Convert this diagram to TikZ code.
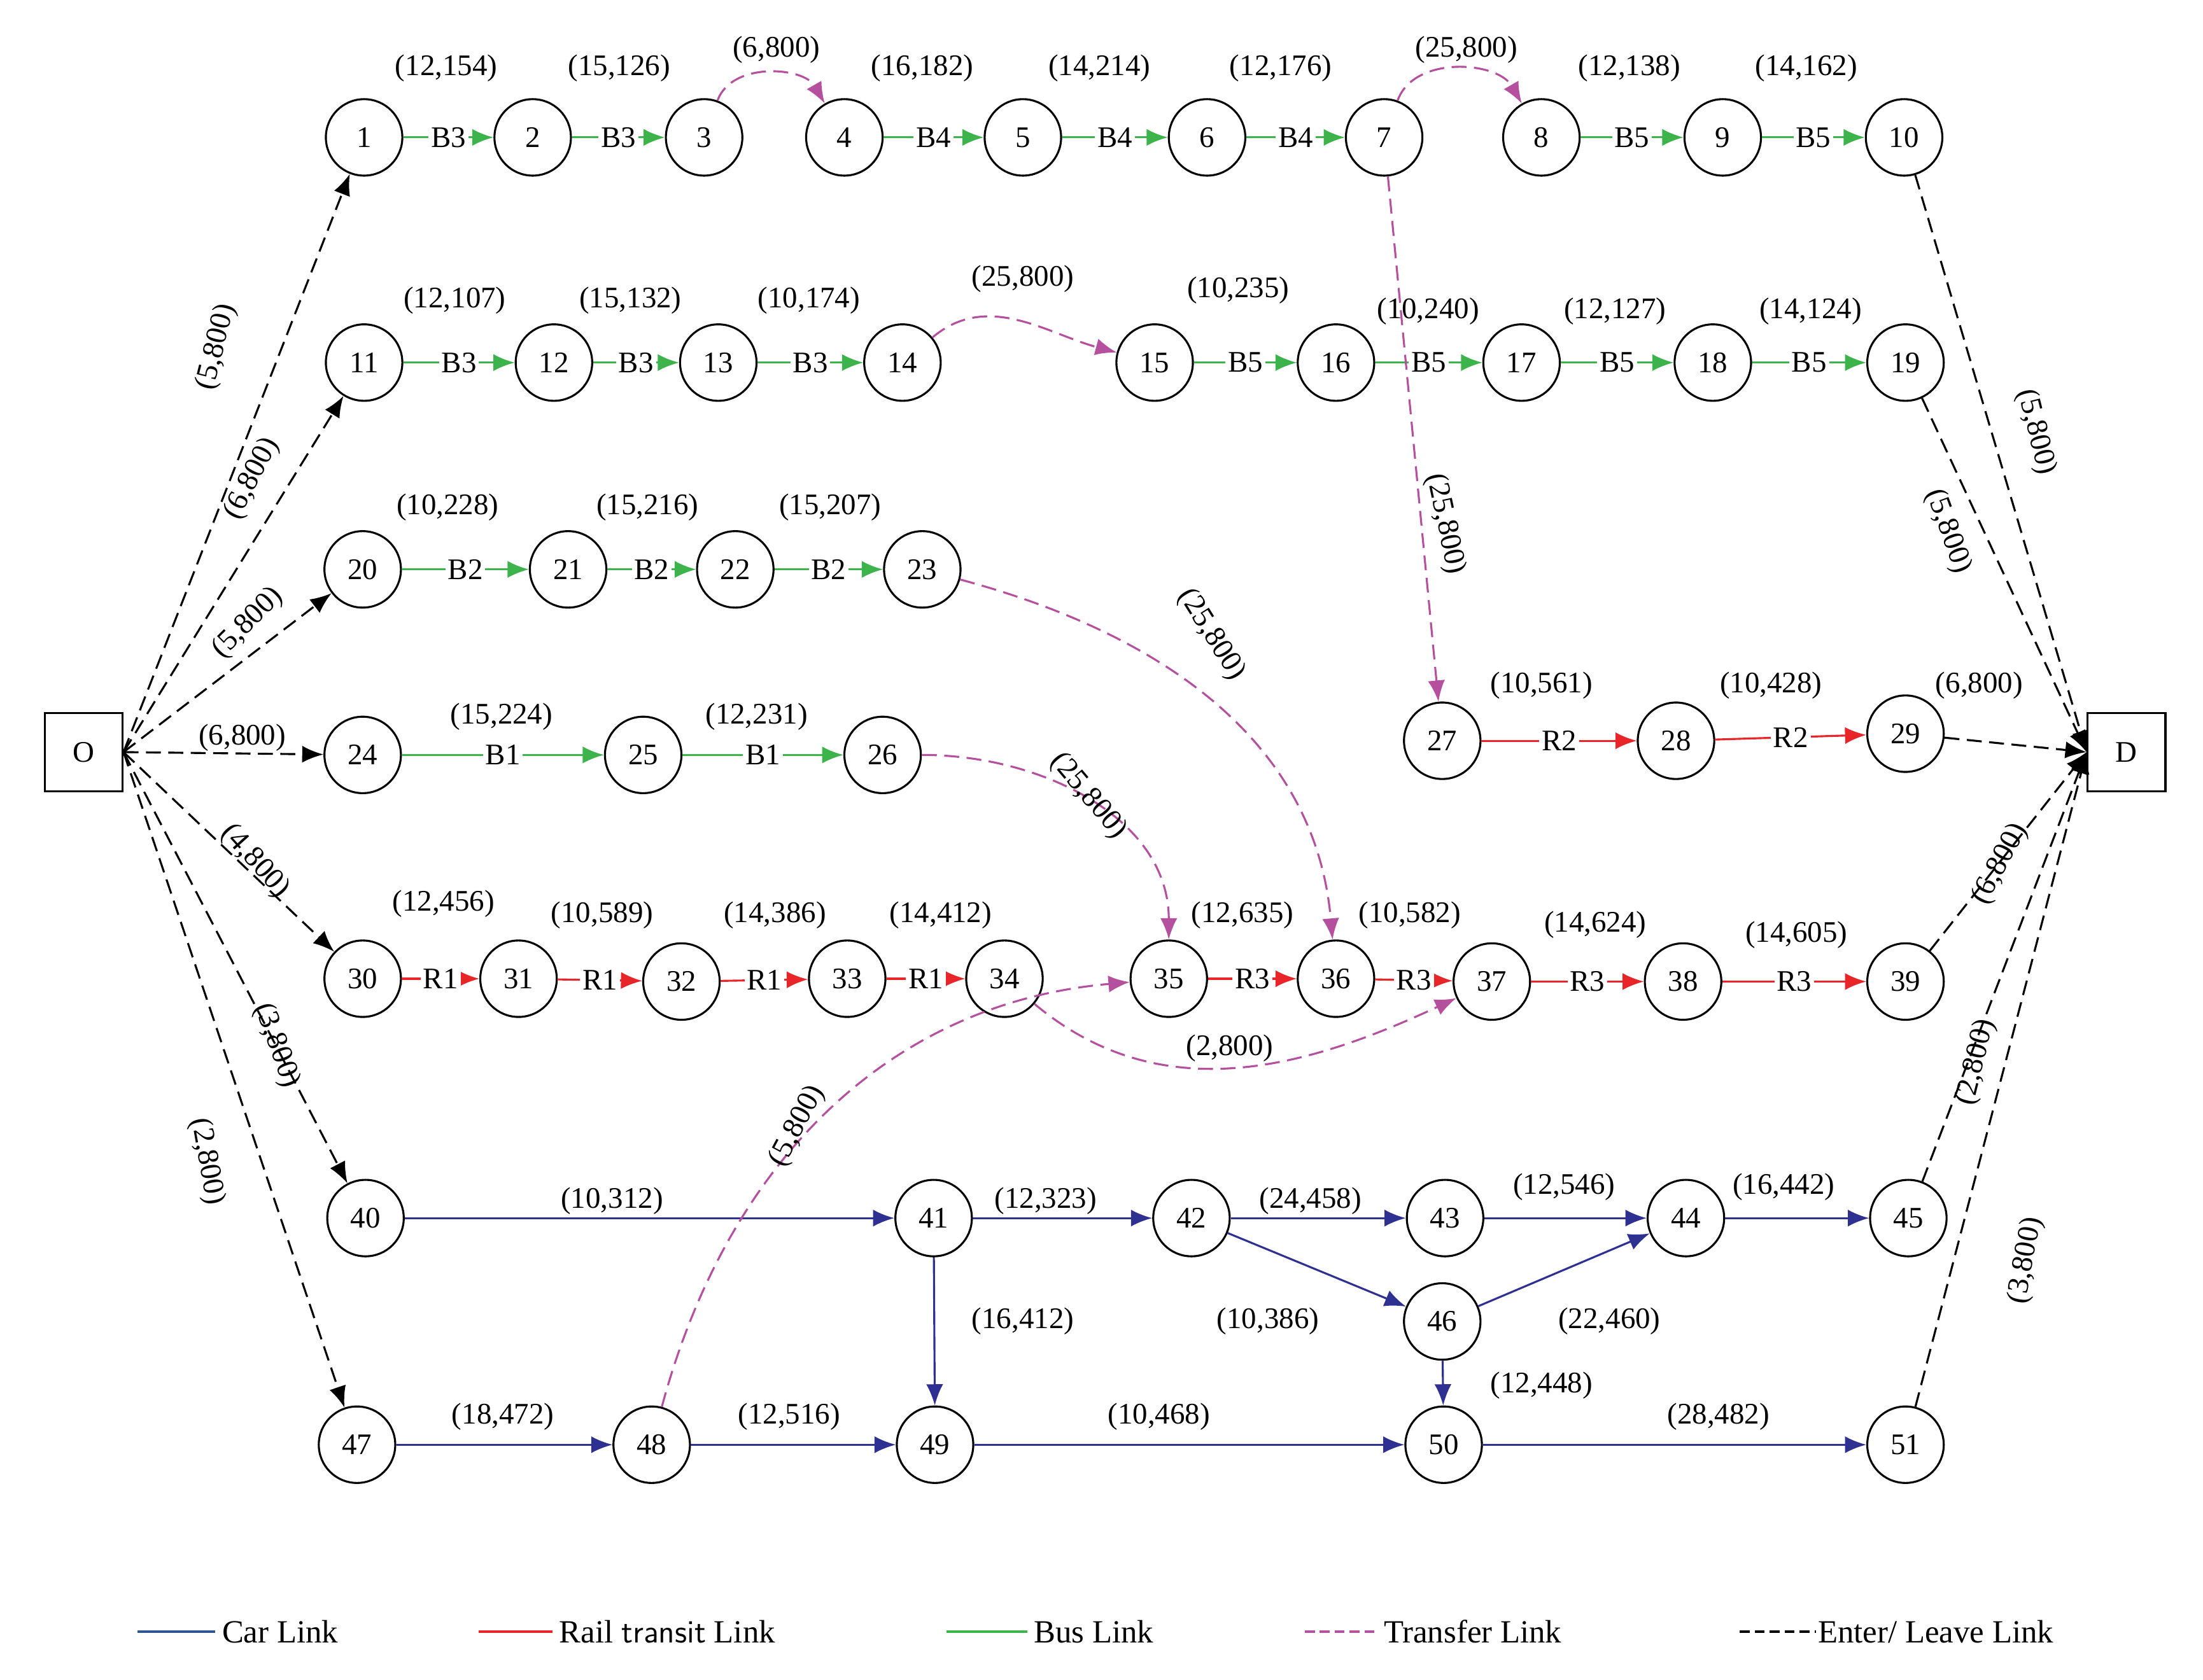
\documentclass[tikz,border=0pt]{standalone}
\usepackage{fontspec}
\setmainfont{Liberation Serif}
\usetikzlibrary{arrows.meta}
\definecolor{busg}{RGB}{60,180,75}
\definecolor{railr}{RGB}{232,38,42}
\definecolor{trm}{RGB}{181,80,158}
\definecolor{carb}{RGB}{46,49,146}
\definecolor{legb}{RGB}{47,85,151}
\begin{document}
\begin{tikzpicture}[x=0.02cm,y=-0.02cm,font=\fontsize{12}{14}\selectfont,
 nd/.style={circle,draw,thick,minimum size=1.08cm,inner sep=0pt},
 tip/.style={-{Latex[length=3mm,width=2.4mm]}},
 bus/.style={tip,busg,thick},
 rail/.style={tip,railr,thick},
 car/.style={tip,carb,thick},
 dsh/.style={dash pattern=on 6pt off 3pt},
 tr/.style={tip,trm,thick,dsh},
 el/.style={tip,black,thick,dsh},
 ml/.style={fill=white,inner sep=1pt,text=black},
 cl/.style={inner sep=0pt}]
\useasboundingbox (0,0) rectangle (1555,1186);
\node[draw,thick,minimum size=1.1cm] (O) at (59,531) {O};
\node[draw,thick,minimum size=1.1cm] (D) at (1501,531) {D};
\foreach \n/\x/\y in {1/257/97,2/376/97,3/497/97,4/596/97,5/722/97,6/852/97,7/977/97,8/1088/97,9/1216/97,10/1344/97,
11/257/256,12/391/256,13/507/256,14/637/256,15/815/256,16/943/256,17/1074/256,18/1209/256,19/1345/256,
20/256/402,21/401/402,22/519/402,23/651/402,24/256/533,25/454/533,26/623/533,27/1018/523,28/1183/523,29/1345/518,
30/256/691,31/366/691,32/481/693,33/598/691,34/709/691,35/825/691,36/943/691,37/1053/693,38/1188/693,39/1345/693,
40/258/860,41/659/860,42/841/860,43/1020/860,44/1190/860,45/1347/860,46/1018/933,
47/252/1020,48/460/1020,49/660/1020,50/1019/1020,51/1345/1020}
 \node[nd] (n\n) at (\x,\y) {\n};
\foreach \a/\b/\l in {1/2/B3,2/3/B3,4/5/B4,5/6/B4,6/7/B4,8/9/B5,9/10/B5,11/12/B3,12/13/B3,13/14/B3,15/16/B5,16/17/B5,17/18/B5,18/19/B5,20/21/B2,21/22/B2,22/23/B2,24/25/B1,25/26/B1}
 \draw[bus] (n\a) -- node[ml]{\l} (n\b);
\foreach \a/\b/\l in {27/28/R2,28/29/R2,30/31/R1,31/32/R1,32/33/R1,33/34/R1,35/36/R3,36/37/R3,37/38/R3,38/39/R3}
 \draw[rail] (n\a) -- node[ml]{\l} (n\b);
\foreach \a/\b in {40/41,41/42,42/43,42/46,43/44,46/44,44/45,41/49,46/50,47/48,48/49,49/50,50/51}
 \draw[car] (n\a) -- (n\b);
\draw[tr] (n3) to[out=70,in=120] (n4);
\draw[tr] (n7) to[out=70,in=120] (n8);
\draw[tr] (n14) to[out=40,in=165] (n15);
\draw[tr] (n7) -- (n27);
\draw[tr] (n23) to[out=-15,in=95] (n36);
\draw[tr] (n26) to[out=0,in=90] (n35);
\draw[tr] (n34) to[out=-40,in=-155] (n37);
\draw[tr] (n48) to[out=75,in=185] (n35);
\foreach \n in {1,11,20,24,30,40,47} \draw[el] (O.east) -- (n\n);
\foreach \n in {10,19,29,39,45,51} \draw[el] (n\n) -- (D.west);
\foreach \t/\x/\y in {{(12,154)}/315/48,{(15,126)}/437/48,{(6,800)}/548/35,{(16,182)}/651/48,{(14,214)}/776/48,{(12,176)}/904/48,{(25,800)}/1035/35,{(12,138)}/1150/48,{(14,162)}/1275/48,
{(12,107)}/321/212,{(15,132)}/445/212,{(10,174)}/571/212,{(25,800)}/722/197,{(10,235)}/874/205,{(10,240)}/1008/220,{(12,127)}/1140/220,{(14,124)}/1278/220,
{(10,228)}/316/358,{(15,216)}/457/358,{(15,207)}/586/358,{(15,224)}/354/506,{(12,231)}/534/506,{(10,561)}/1088/484,{(10,428)}/1250/484,{(6,800)}/1397/484,
{(12,456)}/313/638,{(10,589)}/425/646,{(14,386)}/547/646,{(14,412)}/664/646,{(12,635)}/877/646,{(10,582)}/995/646,{(14,624)}/1126/653,{(14,605)}/1268/660,
{(10,312)}/432/848,{(12,323)}/738/848,{(24,458)}/925/848,{(12,546)}/1104/838,{(16,442)}/1259/838,{(16,412)}/722/933,{(10,386)}/895/933,{(22,460)}/1136/933,{(12,448)}/1088/978,
{(18,472)}/355/1000,{(12,516)}/557/1000,{(10,468)}/818/1000,{(28,482)}/1213/1000,{(2,800)}/868/740,{(6,800)}/171/521}
 \node[cl] at (\x,\y) {\t};
\foreach \t/\x/\y/\r in {{(25,800)}/1020/370/-78,{(25,800)}/855/448/-58,{(25,800)}/768/562/-50,{(5,800)}/563/795/62,
{(5,800)}/153/245/76,{(6,800)}/178/338/62,{(5,800)}/175/440/45,{(4,800)}/180/608/-48,{(3,800)}/195/738/-70,{(2,800)}/146/820/-80,
{(5,800)}/1437/305/-76,{(5,800)}/1375/375/-70,{(6,800)}/1412/610/62,{(2,800)}/1395/750/76,{(3,800)}/1430/890/80}
 \node[cl,rotate=\r] at (\x,\y) {\t};
\coordinate (l1a) at (97,1152); \coordinate (l1b) at (152,1152);
\coordinate (l2a) at (338,1152); \coordinate (l2b) at (390,1152);
\coordinate (l3a) at (668,1152); \coordinate (l3b) at (725,1152);
\coordinate (l4a) at (921,1152); \coordinate (l4b) at (972,1152);
\coordinate (l5a) at (1228,1152); \coordinate (l5b) at (1282,1152);
\draw[legb,thick] (l1a) -- (l1b) node[right=-1pt,text=black,font=\fontsize{13}{15}\selectfont]{Car Link};
\draw[railr,thick] (l2a) -- (l2b) node[right=-1pt,text=black,font=\fontsize{13}{15}\selectfont]{Rail {\sffamily transit} Link};
\draw[busg,thick] (l3a) -- (l3b) node[right=-1pt,text=black,font=\fontsize{13}{15}\selectfont]{Bus Link};
\draw[trm,thick,dash pattern=on 4pt off 2pt] (l4a) -- (l4b) node[right=-1pt,text=black,font=\fontsize{13}{15}\selectfont]{Transfer Link};
\draw[black,thick,dash pattern=on 4pt off 2pt] (l5a) -- (l5b) node[right=-3pt,text=black,font=\fontsize{13}{15}\selectfont]{Enter/ Leave Link};
\end{tikzpicture}
\end{document}
